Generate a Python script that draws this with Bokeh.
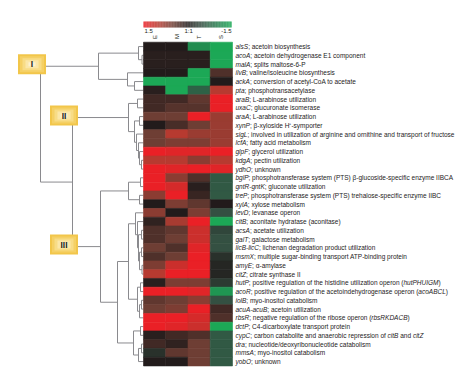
import numpy as np
from bokeh.plotting import figure
from bokeh.models import Range1d, ColumnDataSource, LinearColorMapper
from bokeh.transform import transform
from bokeh.core.properties import value
from bokeh.embed import file_html
from bokeh.resources import INLINE

# ---------------- data ----------------
STAGES = ["E", "M", "T", "S"]
GENES = ["alsS", "acoA", "malA", "ilvB", "ackA", "pta", "araB", "uxaC", "araA",
         "xynP", "sigL", "lcfA", "glpF", "kdgA", "ydhO", "bglP", "gntR-gntK",
         "treP", "xylA", "levD", "citB", "acsA", "galT", "licB-licC", "msmX",
         "amyE", "citZ", "hutP", "acoR", "iolB", "acuA-acuB", "rbsR", "dctP",
         "cypC", "dra", "mmsA", "yobO"]
DESCRIPTIONS = [
    "acetoin biosynthesis",
    "acetoin dehydrogenase E1 component",
    "splits maltose-6-P",
    "valine/isoleucine biosynthesis",
    "conversion of acetyl-CoA to acetate",
    "phosphotransacetylase",
    "L-arabinose utilization",
    "glucuronate isomerase",
    "L-arabinose utilization",
    "\u03b2-xyloside H\u207a-symporter",
    "involved in utilization of arginine and ornithine and transport of fructose",
    "fatty acid metabolism",
    "glycerol utilization",
    "pectin utilization",
    "unknown",
    "phosphotransferase system (PTS) \u03b2-glucoside-specific enzyme IIBCA",
    "gluconate utilization",
    "phosphotransferase system (PTS) trehalose-specific enzyme IIBC",
    "xylose metabolism",
    "levanase operon",
    "aconitate hydratase (aconitase)",
    "acetate utilization",
    "galactose metabolism",
    "lichenan degradation product utilization",
    "multiple sugar-binding transport ATP-binding protein",
    "\u03b1-amylase",
    "citrate synthase II",
    "positive regulation of the histidine utilization operon (*hutPHUIGM*)",
    "positive regulation of the acetoindehydrogenase operon (*acoABCL*)",
    "myo-inositol catabolism",
    "acetoin utilization",
    "negative regulation of the ribose operon (*rbsRKDACB*)",
    "C4-dicarboxylate transport protein",
    "carbon catabolite and anaerobic repression of *citB* and *citZ*",
    "nucleotide/deoxyribonucleotide catabolism",
    "myo-inositol catabolism",
    "unknown",
]
E_VALUES = [0.0, 0.05, 0.05, 0.0, -1.5, 0.05, 0.2, 0.2, 0.5, 0.0, 0.5, 0.5, 1.5,
            1.0, 1.5, 1.5, 1.5, 0.7, 0.0, 0.7, 0.1, 0.3, 0.3, 0.5, 0.3, 0.6, 1.0,
            0.05, 1.5, 0.4, 0.5, 1.5, 1.5, 0.05, 0.2, -0.2, 0.0]
M_VALUES = [0.0, 0.05, 0.05, 0.0, -1.5, -1.5, 0.2, 0.35, 0.5, 0.25, 1.0, 0.6, 1.4,
            1.0, 1.4, 0.7, 1.3, 1.5, 0.6, 0.0, 0.9, 0.4, 0.5, 0.3, 0.5, 1.2, 1.5,
            0.6, 1.5, 0.5, 0.6, 1.5, 1.4, 0.2, 0.1, 0.4, 0.0]
T_VALUES = [-1.2, 0.05, 0.05, -1.5, -1.5, -0.7, 0.4, 0.35, 1.5, 0.5, 0.8, 0.6, 1.4,
            0.7, 1.5, 0.3, 0.05, 0.15, 0.4, 0.6, 1.5, 1.2, 1.2, 1.4, 1.5, 1.5, 1.5,
            0.6, 1.4, 0.7, 1.5, 1.3, 1.2, 0.3, 0.5, 0.5, 0.5]
S_VALUES = [-1.5, -1.5, -1.5, 0.3, 0.0, 1.0, 1.5, 1.5, 0.8, 0.8, 0.8, 0.8, 1.5,
            1.0, 1.4, -0.6, -0.6, -0.6, 0.0, -0.5, -1.5, -0.4, -0.5, -0.5, -0.2,
            -0.1, -0.1, -0.3, -1.3, -0.5, 0.2, 0.3, -1.5, -0.6, -0.6, -0.6, -0.6]
SCALE_LABELS = ["1.5", "1:1", "-1.5"]

# dendrogram: (merge height, left, right); leaves are row indices
CLUSTER_I = (0.45, (0.05, 0, (0.015, 1, 2)), (0.16, 3, (0.09, 4, 5)))
CLUSTER_II = (0.15, (0.06, 6, 7),
              (0.09, (0.04, 8, 9), (0.07, 10, (0.05, 11, (0.04, 12, (0.02, 13, 14))))))
III_A = (0.15, (0.03, 15, 16), (0.04, 17, 18))
III_B = (0.26,
         (0.15,
          (0.08, 19, (0.06, 20, (0.05, (0.02, 21, 22), (0.04, (0.02, 23, 24), (0.015, 25, 26))))),
          (0.06, (0.03, 27, 28), (0.04, (0.02, 29, 30), 31))),
         (0.10, (0.03, 32, 33), (0.05, (0.02, 34, 35), 36)))
CLUSTER_III = (0.43, III_A, III_B)
TREE = (1.03, CLUSTER_I, (0.71, CLUSTER_II, CLUSTER_III))
CLUSTER_NAMES = ["I", "II", "III"]

# ---------------- styling helpers ----------------
STOPS = [(-1.5, (28, 168, 86)), (-1.0, (36, 122, 76)), (-0.5, (52, 80, 66)),
         (0.0, (33, 27, 27)), (0.5, (110, 62, 52)), (1.0, (182, 58, 48)),
         (1.5, (234, 32, 38))]
palette = []
for k in range(256):
    v = -1.5 + 3.0 * k / 255
    for (v0, c0), (v1, c1) in zip(STOPS[:-1], STOPS[1:]):
        if v0 <= v <= v1:
            t = (v - v0) / (v1 - v0)
            c = tuple(int(round(a + (b - a) * t)) for a, b in zip(c0, c1))
            palette.append("#%02x%02x%02x" % c)
            break
mapper = LinearColorMapper(palette=palette, low=-1.5, high=1.5)

ARIAL = {' ': 278, '!': 278, '(': 333, ')': 333, '-': 333, '.': 278, '/': 278,
         ':': 278, ';': 278, '+': 584}
for ch in "0123456789":
    ARIAL[ch] = 556
ARIAL.update(dict(zip("ABCDEFGHIJKLMNOPQRSTUVWXYZ",
                      [667, 667, 722, 722, 667, 611, 778, 722, 278, 500, 667, 556, 833,
                       722, 778, 667, 778, 722, 667, 611, 722, 667, 944, 667, 667, 611])))
ARIAL.update(dict(zip("abcdefghijklmnopqrstuvwxyz",
                      [556, 556, 500, 556, 556, 278, 556, 556, 222, 222, 500, 222, 833,
                       556, 556, 556, 556, 333, 500, 278, 556, 500, 722, 500, 500, 500])))
ARIAL['\u207a'] = 350


def text_width(s, size):
    return sum(ARIAL.get(c, 556) for c in s) * size / 1000.0


# ---------------- figure ----------------
W, H = 458, 372
HEAT_LEFT, CELL_W = 143.0, 22.25      # reference px
ROW_TOP, ROW_H = 41.7, 8.75           # reference px
ORIGIN = 0.0                          # where the plot's top-left lands

x0 = (ORIGIN - HEAT_LEFT) / CELL_W
x1 = (ORIGIN + W - HEAT_LEFT) / CELL_W
y_top = (ORIGIN - ROW_TOP) / ROW_H
y_bot = (ORIGIN + H - ROW_TOP) / ROW_H
D_PX = 100.0  # pixels per dendrogram distance unit

p = figure(width=W, height=H, output_backend="svg", toolbar_location=None,
           x_range=Range1d(x0, x1), y_range=Range1d(y_bot, y_top),
           x_axis_location=None, y_axis_location=None, min_border=0)
p.extra_x_ranges = {"dend": Range1d((HEAT_LEFT - ORIGIN) / D_PX,
                                    (HEAT_LEFT - ORIGIN - W) / D_PX)}
p.grid.visible = False
p.outline_line_color = None
p.background_fill_color = "white"
p.border_fill_color = "white"

# dendrogram
segs = {"x0": [], "y0": [], "x1": [], "y1": []}
node_pos = {}


def layout(node):
    if isinstance(node, int):
        return 0.0, node + 0.5
    h, l, r = node
    hl, yl = layout(l)
    hr, yr = layout(r)
    for hc, yc in ((hl, yl), (hr, yr)):
        segs["x0"].append(hc); segs["y0"].append(yc)
        segs["x1"].append(h); segs["y1"].append(yc)
    segs["x0"].append(h); segs["y0"].append(yl)
    segs["x1"].append(h); segs["y1"].append(yr)
    y = (yl + yr) / 2.0
    node_pos[id(node)] = (h, y)
    return h, y


layout(TREE)
p.segment(x0="x0", y0="y0", x1="x1", y1="y1", source=ColumnDataSource(segs),
          x_range_name="dend", line_color="#8a8a8e", line_width=1)

# heatmap
cols = [E_VALUES, M_VALUES, T_VALUES, S_VALUES]
hx, hy, hv = [], [], []
for j, colvals in enumerate(cols):
    for i, v in enumerate(colvals):
        hx.append(j + 0.5); hy.append(i + 0.5); hv.append(v)
hsrc = ColumnDataSource(dict(x=hx, y=hy, v=hv))
p.rect(x="x", y="y", width=1, height=1, source=hsrc,
       fill_color=transform("v", mapper), line_color=transform("v", mapper),
       line_width=0.6)

# colour scale bar
N = 120
bar_w = 3.96
cb_v = np.linspace(1.5, -1.5, N)
cb_src = ColumnDataSource(dict(x=(np.arange(N) + 0.5) * bar_w / N,
                               y=np.full(N, (21 + 27) / 2.0 - ROW_TOP) / ROW_H,
                               v=cb_v))
p.rect(x="x", y="y", width=bar_w / N * 1.05, height=6.0 / ROW_H, source=cb_src,
       fill_color=transform("v", mapper), line_color=None)
lab_y = (30.0 - ROW_TOP) / ROW_H
p.text(x=[0.05, bar_w / 2 + 0.05, bar_w], y=[lab_y] * 3, text=SCALE_LABELS,
       text_align=["left", "center", "right"], text_baseline="middle",
       text_font=value("Liberation Sans"), text_font_size=value("6px"),
       text_color="#231f20")
# stage labels (rotated)
p.text(x=[j + 0.5 for j in range(4)], y=[(38.5 - ROW_TOP) / ROW_H] * 4,
       text=STAGES, angle=np.pi / 2, text_align="left", text_baseline="middle",
       text_font=value("Liberation Sans"), text_font_size=value("6px"),
       text_color="#231f20")

# row labels (mixed italic / roman runs); SVG drops edge spaces, so
# the spaces are turned into offsets
FS = 6.5
norm = {"x": [], "y": [], "t": [], "o": []}
ital = {"x": [], "y": [], "t": [], "o": []}
lx = (235.0 - HEAT_LEFT) / CELL_W
for i, (g, d) in enumerate(zip(GENES, DESCRIPTIONS)):
    full = "*" + g + "*; " + d
    off = 0.0
    for k, run in enumerate(full.split("*")):
        if not run:
            continue
        lead = len(run) - len(run.lstrip(" "))
        off += text_width(" " * lead, FS)
        core = run.strip(" ")
        trail = len(run) - lead - len(core)
        if core:
            tgt = ital if k % 2 == 1 else norm
            tgt["x"].append(lx); tgt["y"].append(i + 0.5)
            tgt["t"].append(core); tgt["o"].append(off)
            off += text_width(core, FS)
        off += text_width(" " * trail, FS)
for src, style in ((norm, "normal"), (ital, "italic")):
    p.text(x="x", y="y", text="t", x_offset="o", source=ColumnDataSource(src),
           text_font=value("Liberation Sans"), text_font_size=value("%.1fpx" % FS),
           text_font_style=style, text_baseline="middle", text_align="left",
           text_color="#1e1a1b")

# cluster boxes
parents = [(TREE, CLUSTER_I), (TREE[2], CLUSTER_II), (TREE[2], CLUSTER_III)]
bx, by = [], []
for par, ch in parents:
    ph = par[0]
    _, cy = node_pos[id(ch)]
    bx.append(ph + 0.085)
    by.append(cy - 2.0 / ROW_H)
layers = [(28, 20, "#f2c64a"), (24, 16, "#f5d065"), (19, 12, "#f8dc86"),
          (13, 8, "#fbe7a9"), (7, 4, "#fdf1cf")]
for w_, h_, c_ in layers:
    p.rect(x=bx, y=by, width=w_, height=h_, width_units="screen", height_units="screen",
           x_range_name="dend", fill_color=c_, line_color=None)
p.text(x=bx, y=by, text=CLUSTER_NAMES, x_range_name="dend",
       text_align="center", text_baseline="middle",
       text_font=value("Liberation Sans"), text_font_size=value("8.5px"),
       text_font_style="bold", text_color="#231f20")

open("out.html", "w").write(file_html(p, INLINE))
